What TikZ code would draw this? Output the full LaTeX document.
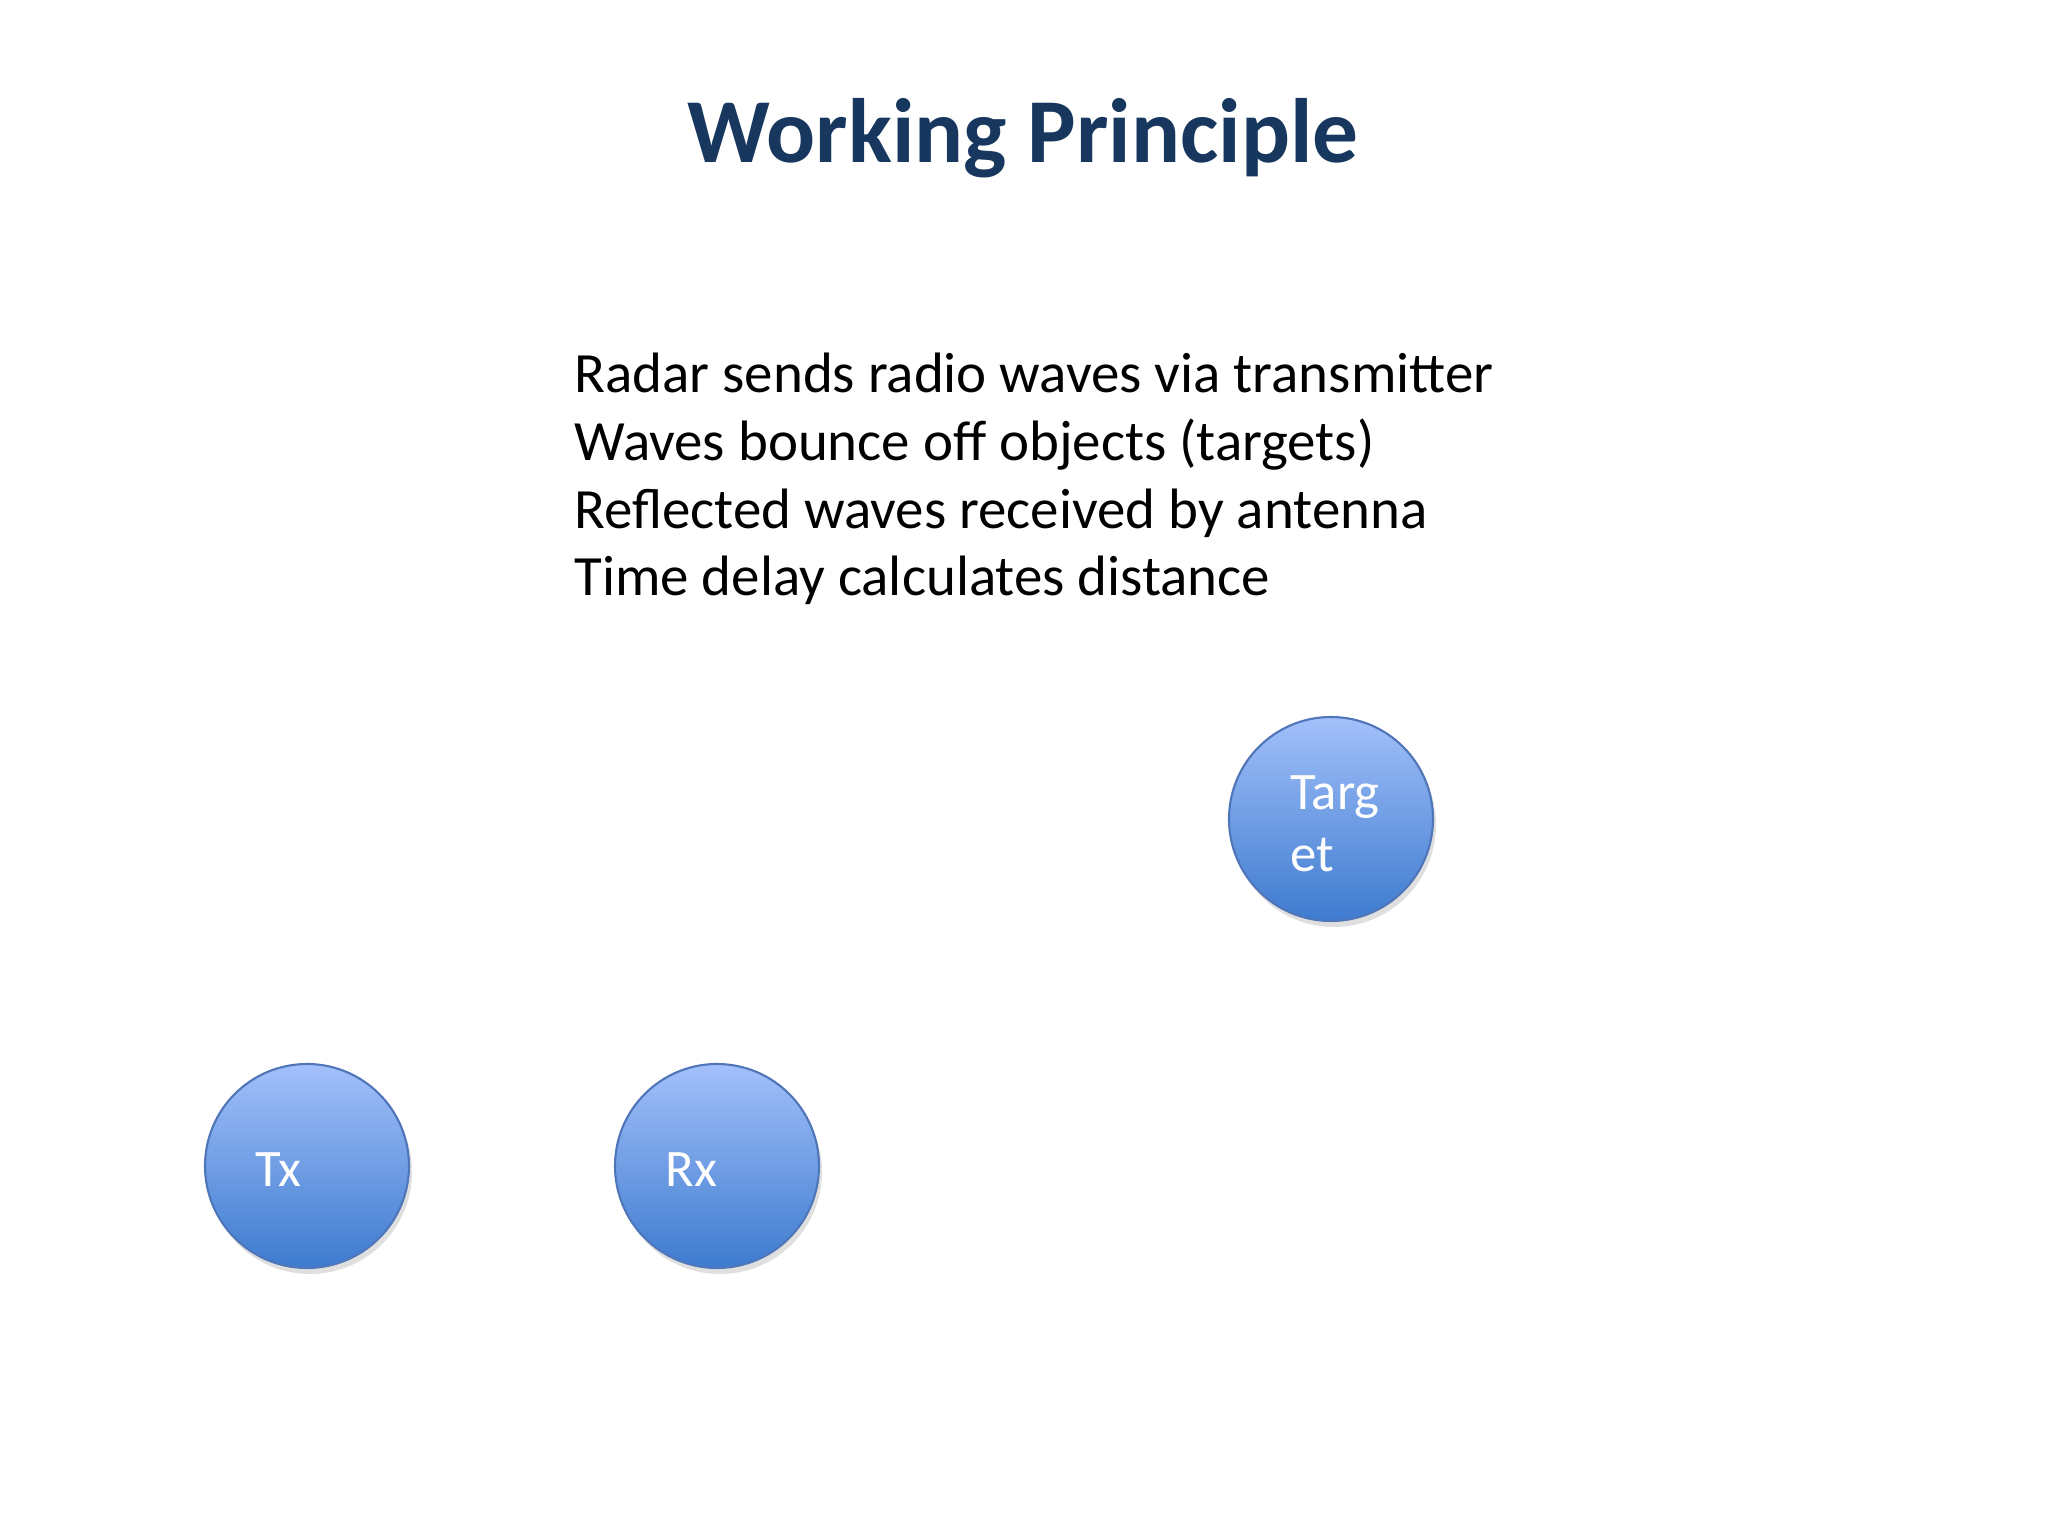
\documentclass[tikz,border=0pt]{standalone}
\usepackage{fontspec}
\setmainfont{Carlito}
\usetikzlibrary{shadows}
\definecolor{titleblue}{HTML}{17375E}
\definecolor{ctop}{HTML}{A3C0FA}
\definecolor{cbot}{HTML}{3D7BCF}
\definecolor{cborder}{HTML}{4F76B8}
\tikzset{
  ball/.style={circle, minimum size=2.04cm, draw=cborder, line width=0.6pt,
    top color=ctop, bottom color=cbot, drop shadow={opacity=0.25, shadow xshift=0.03cm, shadow yshift=-0.06cm}},
  balltext/.style={text=white, font=\fontsize{15}{17.4}\selectfont, anchor=base west, align=left},
  bodytext/.style={anchor=base west, font=\fontsize{16.2}{19.3}\selectfont, align=left}
}
\begin{document}
\begin{tikzpicture}
\useasboundingbox (0,0) rectangle (20.48,-15.36);
\node[font=\fontsize{26}{30}\selectfont\bfseries, text=titleblue] (title) at (10.23,-1.38) {Working Principle};
\node[bodytext] (body) at (5.62,-5.96) {Radar sends radio waves via transmitter\\Waves bounce off objects (targets)\\Reflected waves received by antenna\\Time delay calculates distance};
\node[ball] (target) at (13.31,-8.19) {};
\node[ball] (tx) at (3.07,-11.66) {};
\node[ball] (rx) at (7.17,-11.66) {};
\node[balltext] (targettext) at (12.78,-8.71) {Targ\\et};
\node[balltext] (txtext) at (2.43,-11.87) {Tx};
\node[balltext] (rxtext) at (6.53,-11.87) {Rx};
\end{tikzpicture}
\end{document}
